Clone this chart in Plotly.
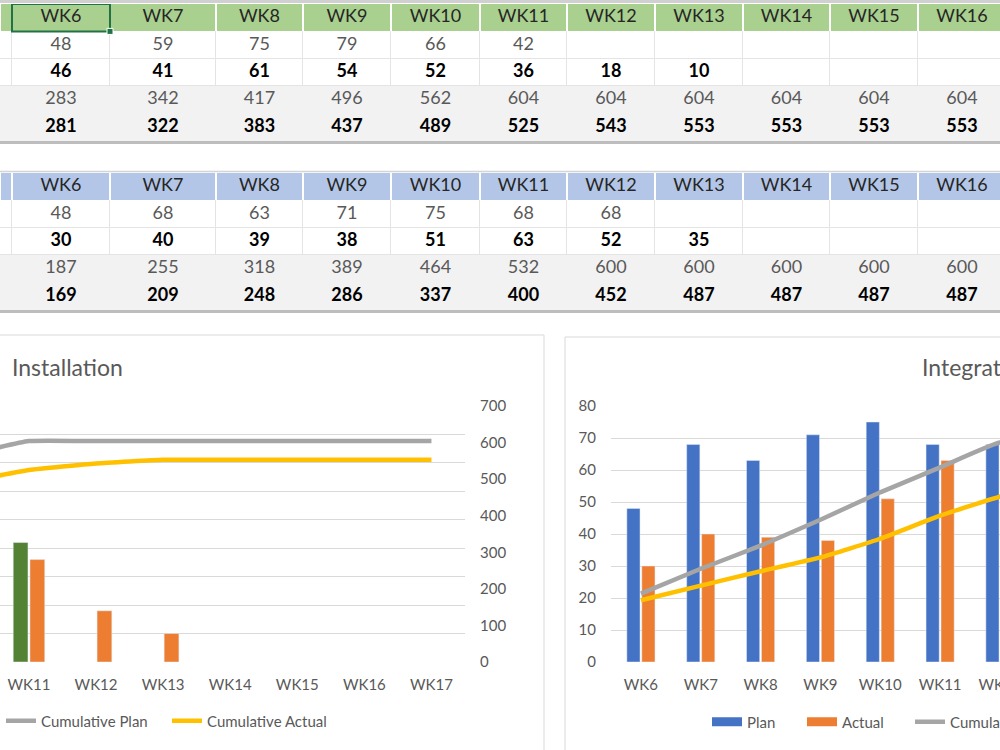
import plotly.graph_objects as go

# ---------------- data ----------------
WEEKS = ['WK6', 'WK7', 'WK8', 'WK9', 'WK10', 'WK11', 'WK12', 'WK13', 'WK14', 'WK15', 'WK16', 'WK17']
TABLE_WEEKS = WEEKS[:11]

INST_PLAN = [48, 59, 75, 79, 66, 42, None, None, None, None, None, None]
INST_ACTUAL = [46, 41, 61, 54, 52, 36, 18, 10, None, None, None, None]
INST_CUM_PLAN = [283, 342, 417, 496, 562, 604, 604, 604, 604, 604, 604, 604]
INST_CUM_ACTUAL = [281, 322, 383, 437, 489, 525, 543, 553, 553, 553, 553, 553]

INTG_PLAN = [48, 68, 63, 71, 75, 68, 68, None, None, None, None, None]
INTG_ACTUAL = [30, 40, 39, 38, 51, 63, 52, 35, None, None, None, None]
INTG_CUM_PLAN = [187, 255, 318, 389, 464, 532, 600, 600, 600, 600, 600, 600]
INTG_CUM_ACTUAL = [169, 209, 248, 286, 337, 400, 452, 487, 487, 487, 487, 487]

SERIES_NAMES = ['Plan', 'Actual', 'Cumulative Plan', 'Cumulative Actual']

# ---------------- style / layout ----------------
W, H = 1000, 750
FONT = 'Lato'
TXT = '#595959'
GRID = '#D9D9D9'
GREEN_BAR = '#548235'
ORANGE = '#ED7D31'
BLUE = '#4472C4'
GREY_LINE = '#A5A5A5'
YELLOW = '#FFC000'
HEAD_GREEN = '#A9D08E'
HEAD_BLUE = '#B4C6E7'
ROW_GREY = '#F2F2F2'

COL_WIDTHS = [12, 98, 106, 87, 88, 89, 87, 88, 88, 87, 88, 88]
EDGES = [0]
for w_ in COL_WIDTHS:
    EDGES.append(EDGES[-1] + w_)
CENTERS = [(EDGES[i] + EDGES[i + 1]) / 2 for i in range(len(COL_WIDTHS))]

# legend entry widths (Excel-like spacing)
LEG_W = {'Plan': 50, 'Actual': 63, 'Cumulative Plan': 121, 'Cumulative Actual': 130}


def px(p):
    return p / W


def py(p):
    return 1 - p / H


fig = go.Figure()


def fmt(v):
    return '' if v is None else str(v)


def add_table(yaxis, header_color, rows):
    ncol = len(COL_WIDTHS)
    kinds = [0, 1, 1, 2, 2]
    ys = list(range(5))
    common = dict(x=EDGES, y=ys, showscale=False, hoverinfo='skip', xaxis='x3', yaxis=yaxis)
    fig.add_trace(go.Heatmap(z=[[k] * ncol for k in kinds],
                             colorscale=[[0, '#FFFFFF'], [0.5, '#E4E4E4'], [1, ROW_GREY]],
                             zmin=0, zmax=2, **common))
    fig.add_trace(go.Heatmap(z=[[1] * ncol] + [[None] * ncol for _ in range(4)],
                             colorscale=[[0, header_color], [1, header_color]],
                             zmin=0, zmax=1, xgap=2, **common))
    fig.add_trace(go.Heatmap(z=[[None] * ncol] + [[k] * ncol for k in kinds[1:]],
                             colorscale=[[0, '#FFFFFF'], [1, ROW_GREY]],
                             zmin=1, zmax=2, xgap=1, ygap=1, **common))
    texts = [[''] + TABLE_WEEKS] + [[''] + [fmt(v) for v in r[:11]] for r in rows]
    colors = ['#262626', TXT, '#000000', TXT, '#000000']
    weights = ['normal', 'normal', 'bold', 'normal', 'bold']
    for i, t in enumerate(texts):
        fig.add_trace(go.Scatter(x=CENTERS, y=[i] * len(CENTERS), text=t, mode='text',
                                 textposition='middle center',
                                 textfont=dict(family=FONT, size=18, color=colors[i], weight=weights[i]),
                                 hoverinfo='skip', showlegend=False, xaxis='x3', yaxis=yaxis))


add_table('y5', HEAD_GREEN, [INST_PLAN, INST_ACTUAL, INST_CUM_PLAN, INST_CUM_ACTUAL])
add_table('y6', HEAD_BLUE, [INTG_PLAN, INTG_ACTUAL, INTG_CUM_PLAN, INTG_CUM_ACTUAL])

line_common = dict(mode='lines', hoverinfo='skip')

# ---------------- Installation chart ----------------
fig.add_trace(go.Bar(x=WEEKS, y=INST_PLAN, name=SERIES_NAMES[0], marker_color=GREEN_BAR,
                     xaxis='x', yaxis='y', showlegend=False, hoverinfo='skip'))
fig.add_trace(go.Bar(x=WEEKS, y=INST_ACTUAL, name=SERIES_NAMES[1], marker_color=ORANGE,
                     xaxis='x', yaxis='y', showlegend=False, hoverinfo='skip'))
fig.add_trace(go.Scatter(x=WEEKS, y=INST_CUM_PLAN, name=SERIES_NAMES[2],
                         line=dict(color=GREY_LINE, width=4.5, shape='spline', smoothing=0.4),
                         xaxis='x', yaxis='y2', legend='legend', legendwidth=LEG_W[SERIES_NAMES[2]],
                         **line_common))
fig.add_trace(go.Scatter(x=WEEKS, y=INST_CUM_ACTUAL, name=SERIES_NAMES[3],
                         line=dict(color=YELLOW, width=4.5, shape='spline', smoothing=0.4),
                         xaxis='x', yaxis='y2', legend='legend', legendwidth=LEG_W[SERIES_NAMES[3]],
                         **line_common))

# ---------------- Integration chart ----------------
fig.add_trace(go.Bar(x=WEEKS, y=INTG_PLAN, name=SERIES_NAMES[0], marker_color=BLUE,
                     xaxis='x2', yaxis='y3', showlegend=False, hoverinfo='skip'))
fig.add_trace(go.Bar(x=WEEKS, y=INTG_ACTUAL, name=SERIES_NAMES[1], marker_color=ORANGE,
                     xaxis='x2', yaxis='y3', showlegend=False, hoverinfo='skip'))
# legend keys drawn as wide blocks (Excel style)
fig.add_trace(go.Scatter(x=[None], y=[None], name=SERIES_NAMES[0], line=dict(color=BLUE, width=9),
                         xaxis='x2', yaxis='y3', legend='legend2', legendwidth=LEG_W[SERIES_NAMES[0]],
                         **line_common))
fig.add_trace(go.Scatter(x=[None], y=[None], name=SERIES_NAMES[1], line=dict(color=ORANGE, width=9),
                         xaxis='x2', yaxis='y3', legend='legend2', legendwidth=LEG_W[SERIES_NAMES[1]],
                         **line_common))
fig.add_trace(go.Scatter(x=WEEKS, y=INTG_CUM_PLAN, name=SERIES_NAMES[2],
                         line=dict(color=GREY_LINE, width=4.5, shape='spline', smoothing=0.4),
                         xaxis='x2', yaxis='y4', legend='legend2', legendwidth=LEG_W[SERIES_NAMES[2]],
                         **line_common))
fig.add_trace(go.Scatter(x=WEEKS, y=INTG_CUM_ACTUAL, name=SERIES_NAMES[3],
                         line=dict(color=YELLOW, width=4.5, shape='spline', smoothing=0.4),
                         xaxis='x2', yaxis='y4', legend='legend2', legendwidth=LEG_W[SERIES_NAMES[3]],
                         **line_common))

tickfont = dict(family=FONT, size=15, color=TXT)
ydom = [py(662), py(406)]

fig.update_layout(
    width=W, height=H,
    margin=dict(l=0, r=0, t=0, b=0, autoexpand=False),
    paper_bgcolor='white', plot_bgcolor='rgba(0,0,0,0)',
    font=dict(family=FONT, color=TXT),
    barmode='group', bargap=0.5, bargroupgap=0.12,
    hovermode=False,
    xaxis=dict(domain=[0, px(465)], anchor='y', type='category', categoryorder='array',
               categoryarray=WEEKS, range=[4.568, 11.5], showgrid=False, zeroline=False,
               showline=False, ticks='', tickfont=tickfont, ticklabelstandoff=12, fixedrange=True),
    yaxis=dict(domain=ydom, anchor='x', range=[0, 90], dtick=10, showgrid=True, gridcolor=GRID,
               gridwidth=1, zeroline=False, showticklabels=False, ticks='', fixedrange=True),
    yaxis2=dict(overlaying='y', side='right', anchor='x', range=[0, 700], dtick=100, showgrid=False,
                zeroline=False, ticks='', tickfont=tickfont, ticklabelstandoff=14, fixedrange=True),
    xaxis2=dict(domain=[px(611), 1], anchor='y3', type='category', categoryorder='array',
                categoryarray=WEEKS, range=[-0.5, 6.001], showgrid=False, zeroline=False,
                showline=False, ticks='', tickfont=tickfont, ticklabelstandoff=12, tickangle=0,
                fixedrange=True),
    yaxis3=dict(domain=ydom, anchor='x2', range=[0, 80], dtick=10, showgrid=True, gridcolor=GRID,
                gridwidth=1, zeroline=False, ticks='', tickfont=tickfont, ticklabelstandoff=14,
                fixedrange=True),
    yaxis4=dict(overlaying='y3', anchor='x2', side='right', range=[0, 700], visible=False,
                fixedrange=True),
    xaxis3=dict(domain=[0, 1], anchor='y5', range=[0, W], visible=False, fixedrange=True),
    yaxis5=dict(domain=[py(141), py(4)], anchor='x3', range=[4.5, -0.5], visible=False,
                fixedrange=True),
    yaxis6=dict(domain=[py(310), py(173)], anchor='x3', range=[4.5, -0.5], visible=False,
                fixedrange=True),
    legend=dict(orientation='h', x=px(1), y=py(721), xanchor='left', yanchor='middle',
                bgcolor='rgba(0,0,0,0)', font=dict(family=FONT, size=15, color=TXT),
                traceorder='normal'),
    legend2=dict(orientation='h', x=px(707), y=py(722), xanchor='left', yanchor='middle',
                 bgcolor='rgba(0,0,0,0)', font=dict(family=FONT, size=15, color=TXT),
                 traceorder='normal'),
)

# chart titles
fig.add_annotation(text='Installation', xref='paper', yref='paper', x=px(10), y=py(367),
                   xanchor='left', yanchor='middle', showarrow=False,
                   font=dict(family=FONT, size=23, color=TXT))
fig.add_annotation(text='Integration', xref='paper', yref='paper', x=px(920), y=py(367),
                   xanchor='left', yanchor='middle', showarrow=False,
                   font=dict(family=FONT, size=23, color=TXT))

# sheet decorations: table borders, selected cell, chart frames
fig.add_shape(type='line', xref='paper', yref='paper', x0=0, x1=1, y0=py(1.5), y1=py(1.5),
              line=dict(color='#D0D0D0', width=3))
fig.add_shape(type='line', xref='paper', yref='paper', x0=0, x1=1, y0=py(142.5), y1=py(142.5),
              line=dict(color='#BDBDBD', width=3))
fig.add_shape(type='line', xref='paper', yref='paper', x0=0, x1=1, y0=py(171.5), y1=py(171.5),
              line=dict(color='#D4D4D4', width=1.5))
fig.add_shape(type='line', xref='paper', yref='paper', x0=0, x1=1, y0=py(311.5), y1=py(311.5),
              line=dict(color='#BDBDBD', width=3))
fig.add_shape(type='rect', xref='x3', yref='y5', x0=EDGES[1], x1=EDGES[2], y0=-0.5, y1=0.5,
              line=dict(color='#217346', width=2))
fig.add_shape(type='rect', xref='x3', yref='y5', x0=EDGES[2] - 3, x1=EDGES[2] + 3,
              y0=0.5 - 0.11, y1=0.5 + 0.11, fillcolor='#217346', line=dict(color='white', width=1))
fig.add_shape(type='rect', xref='paper', yref='paper', x0=-0.01, x1=px(544), y0=-0.01, y1=py(335),
              line=dict(color=GRID, width=1), layer='below')
fig.add_shape(type='rect', xref='paper', yref='paper', x0=px(565), x1=1.01, y0=-0.01, y1=py(337),
              line=dict(color=GRID, width=1), layer='below')

fig.write_html('out.html', config={'displayModeBar': False},
               post_script="document.body.style.margin='0px';document.body.style.overflow='hidden';")
